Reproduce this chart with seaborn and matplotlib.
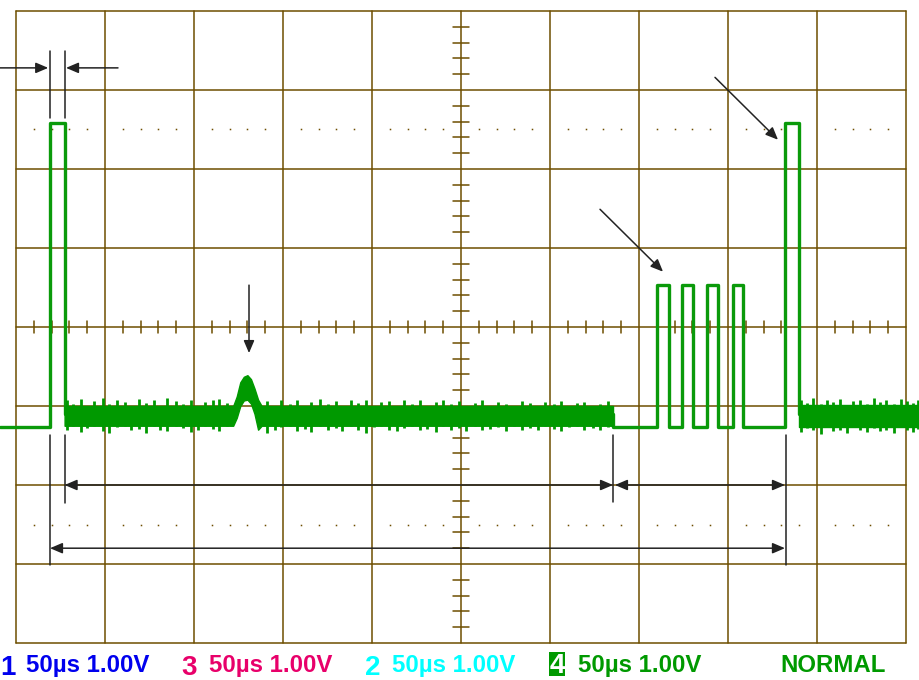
import matplotlib
matplotlib.use("Agg")
import matplotlib.pyplot as plt
from matplotlib.patches import Rectangle
import seaborn as sns

# =============================
# SCREEN SETUP (ch4: 50 us/div, 1.00 V/div)
# =============================
US_PER_DIV = 50
V_PER_DIV = 1.0
N_XDIV = 10
N_YDIV = 8

GRID_COLOR = "#6e4e00"
TRACE_COLOR = "#0a9a0a"
NOISE_COLOR = "#009900"
MARK_COLOR = "#222222"

# =============================
# DATA
# =============================
base_level = -1.27

# clean pulses: start / end time (us) and top level (V)
pulse_start = [19.1, 360.1, 374.2, 388.2, 402.8, 432.0]
pulse_end = [27.3, 366.9, 380.3, 394.4, 408.4, 439.9]
pulse_top = [2.58, 0.53, 0.53, 0.53, 0.53, 2.58]

# noisy stretches: solid core of the band (with the small echo bump)
noise1_t = [27.3, 122, 124, 126, 128, 130, 132, 134, 136, 138, 335.4]
noise1_hi = [-1.00, -1.00, -0.88, -0.70, -0.63, -0.61, -0.66, -0.78, -0.92, -1.00, -1.00]
noise1_lo = [-1.25, -1.25, -1.15, -1.00, -0.93, -0.92, -0.97, -1.10, -1.30, -1.25, -1.25]
noise2_t = [439.9, 508.0]
noise2_hi = [-0.99, -0.99]
noise2_lo = [-1.26, -1.26]

# noise spikes poking out of the band
spike_t = [28.5, 32, 36.5, 40, 44, 49, 52.5, 57, 61, 64.5,
           69, 73, 77.5, 81, 85, 90, 94, 98.5, 102, 106,
           110.5, 114, 118.5, 141, 145.5, 149, 154, 158, 162.5, 166,
           171, 175, 179.5, 183, 188, 192, 196.5, 201, 205, 209.5,
           214, 218, 222.5, 227, 231, 236, 240, 244.5, 249, 253,
           258, 262, 266.5, 271, 275, 280, 284, 288.5, 293, 297,
           302, 306, 310.5, 315, 319, 324, 328, 332.5,
           441, 444.5, 448, 452, 455.5, 459, 463, 467, 470.5, 474,
           478, 482, 485.5, 489, 493, 497, 500.5, 504, 507]
spike_hi = [-0.93, -0.97, -0.91, -1.00, -0.94, -0.90, -0.98, -0.92, -0.95, -1.00,
            -0.91, -0.96, -0.93, -1.00, -0.90, -0.94, -0.97, -0.92, -1.00, -0.95,
            -0.93, -0.91, -0.96, -0.94, -1.00, -0.92, -0.97, -0.93, -1.00, -0.95,
            -0.91, -0.98, -0.94, -1.00, -0.93, -0.96, -0.92, -1.00, -0.95, -0.94,
            -1.00, -0.93, -0.97, -0.92, -1.00, -0.95, -0.93, -0.98, -0.94, -1.00,
            -0.96, -0.93, -1.00, -0.95, -0.97, -1.00, -0.94, -0.96, -1.00, -0.95,
            -0.98, -0.94, -1.00, -0.96, -0.95, -1.00, -0.97, -0.94,
            -0.92, -0.96, -0.90, -0.98, -0.93, -0.95, -0.91, -0.99, -0.94, -0.92,
            -0.97, -0.90, -0.95, -0.93, -0.98, -0.91, -0.94, -0.96, -0.92]
spike_lo = [-1.30, -1.25, -1.33, -1.28, -1.25, -1.32, -1.34, -1.27, -1.25, -1.31,
            -1.29, -1.34, -1.25, -1.30, -1.32, -1.25, -1.28, -1.33, -1.31, -1.25,
            -1.29, -1.32, -1.25, -1.34, -1.30, -1.27, -1.25, -1.32, -1.29, -1.33,
            -1.25, -1.30, -1.28, -1.32, -1.25, -1.31, -1.34, -1.27, -1.25, -1.30,
            -1.32, -1.28, -1.25, -1.31, -1.29, -1.33, -1.25, -1.30, -1.28, -1.32,
            -1.25, -1.31, -1.29, -1.27, -1.32, -1.25, -1.30, -1.28, -1.31, -1.25,
            -1.29, -1.32, -1.27, -1.25, -1.30, -1.28, -1.31, -1.27,
            -1.33, -1.28, -1.31, -1.35, -1.27, -1.32, -1.30, -1.34, -1.26, -1.31,
            -1.33, -1.28, -1.32, -1.30, -1.34, -1.27, -1.31, -1.33, -1.29]

# channel readout at the bottom of the screen
channel_ids = ["1", "3", "2", "4"]
channel_colors = ["#0000ee", "#e8006a", "#00ffff", "#009900"]
channel_readout = ["50µs 1.00V", "50µs 1.00V", "50µs 1.00V", "50µs 1.00V"]
trigger_mode = "NORMAL"

# =============================
# FIGURE
# =============================
sns.set_theme(style="white")
plt.rcParams["font.family"] = ["Liberation Sans", "DejaVu Sans"]

W, H = 920, 680
fig = plt.figure(figsize=(W / 100, H / 100), dpi=100)
ax = fig.add_axes([0, 0, 1, 1])

# graticule position on screen (pixels)
GX0, GY0, DX, DY = 16, 11, 89, 79
x_left = -GX0 / DX * US_PER_DIV
x_right = (W - GX0) / DX * US_PER_DIV
y_top = (N_YDIV / 2 * DY + GY0) / DY * V_PER_DIV
y_bot = (N_YDIV / 2 * DY + GY0 - H) / DY * V_PER_DIV
ax.set_xlim(x_left, x_right)
ax.set_ylim(y_bot, y_top)
ax.axis("off")

t_max = N_XDIV * US_PER_DIV
v_max = N_YDIV / 2 * V_PER_DIV
t_mid = t_max / 2

# grid
for i in range(N_XDIV + 1):
    ax.plot([i * US_PER_DIV] * 2, [-v_max, v_max], color=GRID_COLOR, lw=1.1, zorder=1)
for j in range(N_YDIV + 1):
    v = -v_max + j * V_PER_DIV
    ax.plot([0, t_max], [v, v], color=GRID_COLOR, lw=1.1, zorder=1)

# minor ticks on the centre axes
tick_h = 6 / DY * V_PER_DIV
tick_w = 8 / DX * US_PER_DIV
for k in range(N_XDIV * 5 + 1):
    if k % 5:
        t = k * US_PER_DIV / 5
        ax.plot([t, t], [-tick_h, tick_h], color=GRID_COLOR, lw=1.1, zorder=1)
for k in range(N_YDIV * 5 + 1):
    if k % 5:
        v = -v_max + k * V_PER_DIV / 5
        ax.plot([t_mid - tick_w, t_mid + tick_w], [v, v], color=GRID_COLOR, lw=1.1, zorder=1)

# dotted rows at +/- 2.5 div
dot_t = [k * US_PER_DIV / 5 for k in range(N_XDIV * 5 + 1) if k % 5]
for v in (2.5 * V_PER_DIV, -2.5 * V_PER_DIV):
    ax.plot(dot_t, [v] * len(dot_t), ls="none", marker="s", ms=1.1,
            mec="none", color=GRID_COLOR, zorder=1)

# =============================
# TRACE
# =============================
# first stretch: baseline, wide pulse, then into noise
t_a = [x_left, pulse_start[0], pulse_start[0], pulse_end[0], pulse_end[0]]
v_a = [base_level, base_level, pulse_top[0], pulse_top[0], -1.10]

# second stretch: out of noise, burst + wide pulse, back into noise
t_b = [noise1_t[-1], noise1_t[-1]]
v_b = [-1.10, base_level]
for s, e, top in zip(pulse_start[1:], pulse_end[1:], pulse_top[1:]):
    t_b += [s, s, e, e]
    v_b += [base_level, top, top, base_level]
v_b[-1] = -1.10

for tt, vv in ((t_a, v_a), (t_b, v_b)):
    sns.lineplot(x=tt, y=vv, ax=ax, sort=False, estimator=None,
                 color=TRACE_COLOR, lw=2.4, zorder=3)

for tt, hi, lo in ((noise1_t, noise1_hi, noise1_lo), (noise2_t, noise2_hi, noise2_lo)):
    ax.fill_between(tt, lo, hi, color=NOISE_COLOR, lw=1.0, zorder=3)
ax.vlines(spike_t, spike_lo, spike_hi, color=NOISE_COLOR, lw=2.0, zorder=3)

# =============================
# MEASUREMENT MARKERS
# =============================
head = "-|>,head_length=0.75,head_width=0.32"
dbl = "<|-|>,head_length=0.75,head_width=0.32"


def arrow(x0, y0, x1, y1, style=head):
    ax.annotate("", xy=(x1, y1), xytext=(x0, y0),
                arrowprops=dict(arrowstyle=style, color=MARK_COLOR, lw=1.1,
                                shrinkA=0, shrinkB=0, mutation_scale=10),
                zorder=4)


def mark(t, v0, v1):
    ax.plot([t, t], [v0, v1], color=MARK_COLOR, lw=1.1, zorder=4)


p0s, p0e = pulse_start[0], pulse_end[0]
burst_end = noise1_t[-1]
p5s = pulse_start[-1]

# pulse width of the first pulse
mark(p0s, 2.65, 3.49)
mark(p0e, 2.65, 3.49)
arrow(x_left, 3.28, p0s - 1.0, 3.28)
arrow(57.3, 3.28, p0e + 0.8, 3.28)

# echo bump and burst / pulse pointers
arrow(130.9, 0.53, 130.9, -0.33)
arrow(328.1, 1.49, 363.5, 0.70)
arrow(392.7, 3.16, 428.1, 2.37)

# time intervals below the trace
mark(p0s, -1.37, -3.01)
mark(p0e, -1.37, -2.23)
mark(burst_end, -1.37, -2.22)
mark(p5s + 0.6, -1.37, -3.01)
arrow(p0e, -2.0, burst_end, -2.0, dbl)
arrow(burst_end + 1.1, -2.0, p5s, -2.0, dbl)
arrow(p0s, -2.80, p5s, -2.80, dbl)

# =============================
# READOUT
# =============================
def fx(px):
    return px / W


def fy(py):
    return 1 - py / H


num_x = [0, 181, 365, 549]
txt_x = [26, 209, 392, 578]
for cid, col, txt, nx, tx in zip(channel_ids, channel_colors, channel_readout, num_x, txt_x):
    if cid == "4":
        fig.add_artist(Rectangle((fx(549), fy(676)), 16 / W, 24 / H,
                                 transform=fig.transFigure, color=col, lw=0))
        fig.text(fx(557), fy(673), cid, color="white", fontsize=20,
                 fontweight="bold", ha="center", va="baseline")
    else:
        fig.text(fx(nx), fy(675), cid, color=col, fontsize=20,
                 fontweight="bold", ha="left", va="baseline")
    fig.text(fx(tx), fy(672), txt, color=col, fontsize=17.3,
             fontweight="bold", ha="left", va="baseline")

fig.text(fx(780), fy(672), trigger_mode, color="#009900", fontsize=17.3,
         fontweight="bold", ha="left", va="baseline")

fig.savefig("out.png", dpi=100, facecolor="white")
